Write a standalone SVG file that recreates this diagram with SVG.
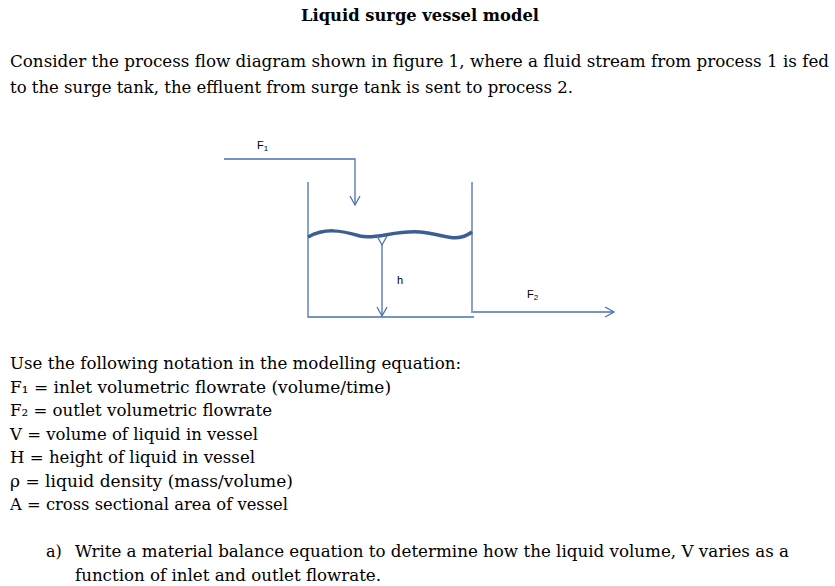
<svg xmlns="http://www.w3.org/2000/svg" width="835" height="586" viewBox="0 0 835 586">
<style>
.t{font-family:"DejaVu Serif","Liberation Serif",serif;font-size:16px;fill:#000}
.l{font-family:"Liberation Sans",Arial,sans-serif;font-size:11px;fill:#000}
.ln{stroke:#4a72b0;stroke-width:1.3;fill:none}
</style>
<defs><marker id="a" markerWidth="12" markerHeight="12" refX="10" refY="6" orient="auto" markerUnits="userSpaceOnUse"><path d="M1,1 L10,6 L1,11" fill="none" stroke="#4a72b0" stroke-width="1.3"/></marker></defs>
<rect width="835" height="586" fill="#fff"/>
<text class="t" x="420" y="21" text-anchor="middle" font-weight="bold" textLength="238" lengthAdjust="spacingAndGlyphs">Liquid surge vessel model</text>
<text class="t" x="10" y="67" textLength="819" lengthAdjust="spacingAndGlyphs">Consider the process flow diagram shown in figure 1, where a fluid stream from process 1 is fed</text>
<text class="t" x="10" y="93" textLength="563" lengthAdjust="spacingAndGlyphs">to the surge tank, the effluent from surge tank is sent to process 2.</text>
<g id="tank">
<path class="ln" d="M308,182 V317 H474"/>
<path class="ln" d="M472,182 V313"/>
<path d="M308,237 C325,228 340,230 360,236 C375,240 395,230 420,232 C445,234 455,244 472,232" fill="none" stroke="#3b5e94" stroke-width="3.5"/>
</g>
<g id="connectors">
<path class="ln" d="M224,159 H355 V205" marker-end="url(#a)"/>
<path class="ln" d="M382,245 V316" marker-start="url(#a)" marker-end="url(#a)"/>
<path class="ln" d="M473,312 H614" marker-end="url(#a)"/>
</g>
<g id="labels">
<text class="l" x="257" y="149">F<tspan font-size="8" dy="2">1</tspan></text>
<text class="l" x="397" y="284">h</text>
<text class="l" x="527" y="298">F<tspan font-size="8" dy="2">2</tspan></text>
</g>
<text class="t" x="10" y="369" textLength="451" lengthAdjust="spacingAndGlyphs">Use the following notation in the modelling equation:</text>
<text class="t" x="10" y="393" textLength="381" lengthAdjust="spacingAndGlyphs">F₁ = inlet volumetric flowrate (volume/time)</text>
<text class="t" x="10" y="416" textLength="262" lengthAdjust="spacingAndGlyphs">F₂ = outlet volumetric flowrate</text>
<text class="t" x="10" y="440" textLength="248" lengthAdjust="spacingAndGlyphs">V = volume of liquid in vessel</text>
<text class="t" x="10" y="463" textLength="245" lengthAdjust="spacingAndGlyphs">H  = height of liquid in vessel</text>
<text class="t" x="10" y="487" textLength="283" lengthAdjust="spacingAndGlyphs">ρ = liquid density (mass/volume)</text>
<text class="t" x="10" y="510" textLength="278" lengthAdjust="spacingAndGlyphs">A = cross sectional area of vessel</text>
<text class="t" x="46" y="557">a)</text>
<text class="t" x="75" y="557" textLength="714" lengthAdjust="spacingAndGlyphs">Write a material balance equation to determine how the liquid volume, V varies as a</text>
<text class="t" x="75" y="581" textLength="306" lengthAdjust="spacingAndGlyphs">function of inlet and outlet flowrate.</text>
</svg>
